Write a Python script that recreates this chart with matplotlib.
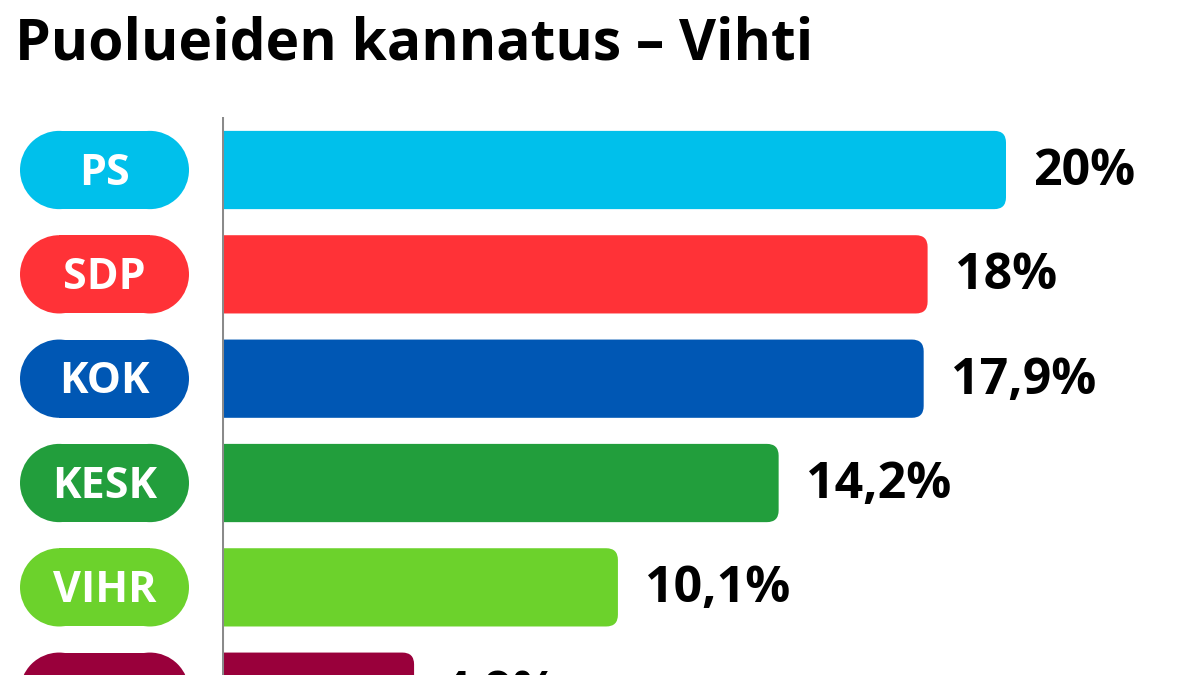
import matplotlib.pyplot as plt
from matplotlib.patches import FancyBboxPatch, Ellipse, Rectangle

# Puolueiden kannatus, Vihti
puolueet = ['PS', 'SDP', 'KOK', 'KESK', 'VIHR', 'VAS']
kannatus = [20.0, 18.0, 17.9, 14.2, 10.1, 4.9]
tekstit = ['20%', '18%', '17,9%', '14,2%', '10,1%', '4,9%']
varit = ['#00c0eb', '#ff3237', '#0057b4', '#229e3c', '#6cd22c', '#99003b']

plt.rcParams['font.family'] = ['Open Sans', 'DejaVu Sans']

W, H = 1200, 675
fig = plt.figure(figsize=(12, 6.75), dpi=100)

# mitat pikseleinä
ax_x0 = 222
rivi = 104.3          # rivien väli px
px_per_pct = 39.2
bar_h = 0.75
ylim = (4.84, -0.508)

ax = fig.add_axes([ax_x0 / W, 0, (W - ax_x0) / W, (H - 117) / H])
ax.set_xlim(0, (W - ax_x0) / px_per_pct)
ax.set_ylim(*ylim)
ax.axis('off')

aspect = px_per_pct / rivi
for i, (v, c, t) in enumerate(zip(kannatus, varit, tekstit)):
    # vasen pää jää akselin taakse -> vain oikeat kulmat pyöristetty
    ax.add_patch(FancyBboxPatch((-1, i - bar_h / 2), v + 1, bar_h,
                                boxstyle='round,pad=0,rounding_size=0.3',
                                mutation_aspect=aspect, fc=c, ec='none'))
    ax.text(v + 0.7, i + 0.02, t, va='center', ha='left', fontsize=36,
            fontweight='bold', color='black')

ax.axvline(0, color='#8a8a8a', lw=2.2, zorder=5)

# puolueiden tunnukset
lx = fig.add_axes([0, 0, ax_x0 / W, (H - 117) / H])
lx.set_xlim(0, ax_x0)
lx.set_ylim(*ylim)
lx.axis('off')
px0, px1 = 20, 189
rh = bar_h * rivi / 2   # päätyjen säde px
for i, (p, c) in enumerate(zip(puolueet, varit)):
    lx.add_patch(Rectangle((px0 + rh, i - bar_h / 2), px1 - px0 - 2 * rh, bar_h,
                           fc=c, ec='none'))
    for cx in (px0 + rh, px1 - rh):
        lx.add_patch(Ellipse((cx, i), 2 * rh, bar_h, fc=c, ec='none'))
    lx.text((px0 + px1) / 2, i + 0.03, p, va='center', ha='center', fontsize=31,
            fontweight='bold', color='white')

fig.text(15 / W, 1 - 59 / H, 'Puolueiden kannatus – Vihti', fontsize=41,
         fontweight='bold', va='baseline', ha='left')

fig.savefig('out.png', dpi=100)
